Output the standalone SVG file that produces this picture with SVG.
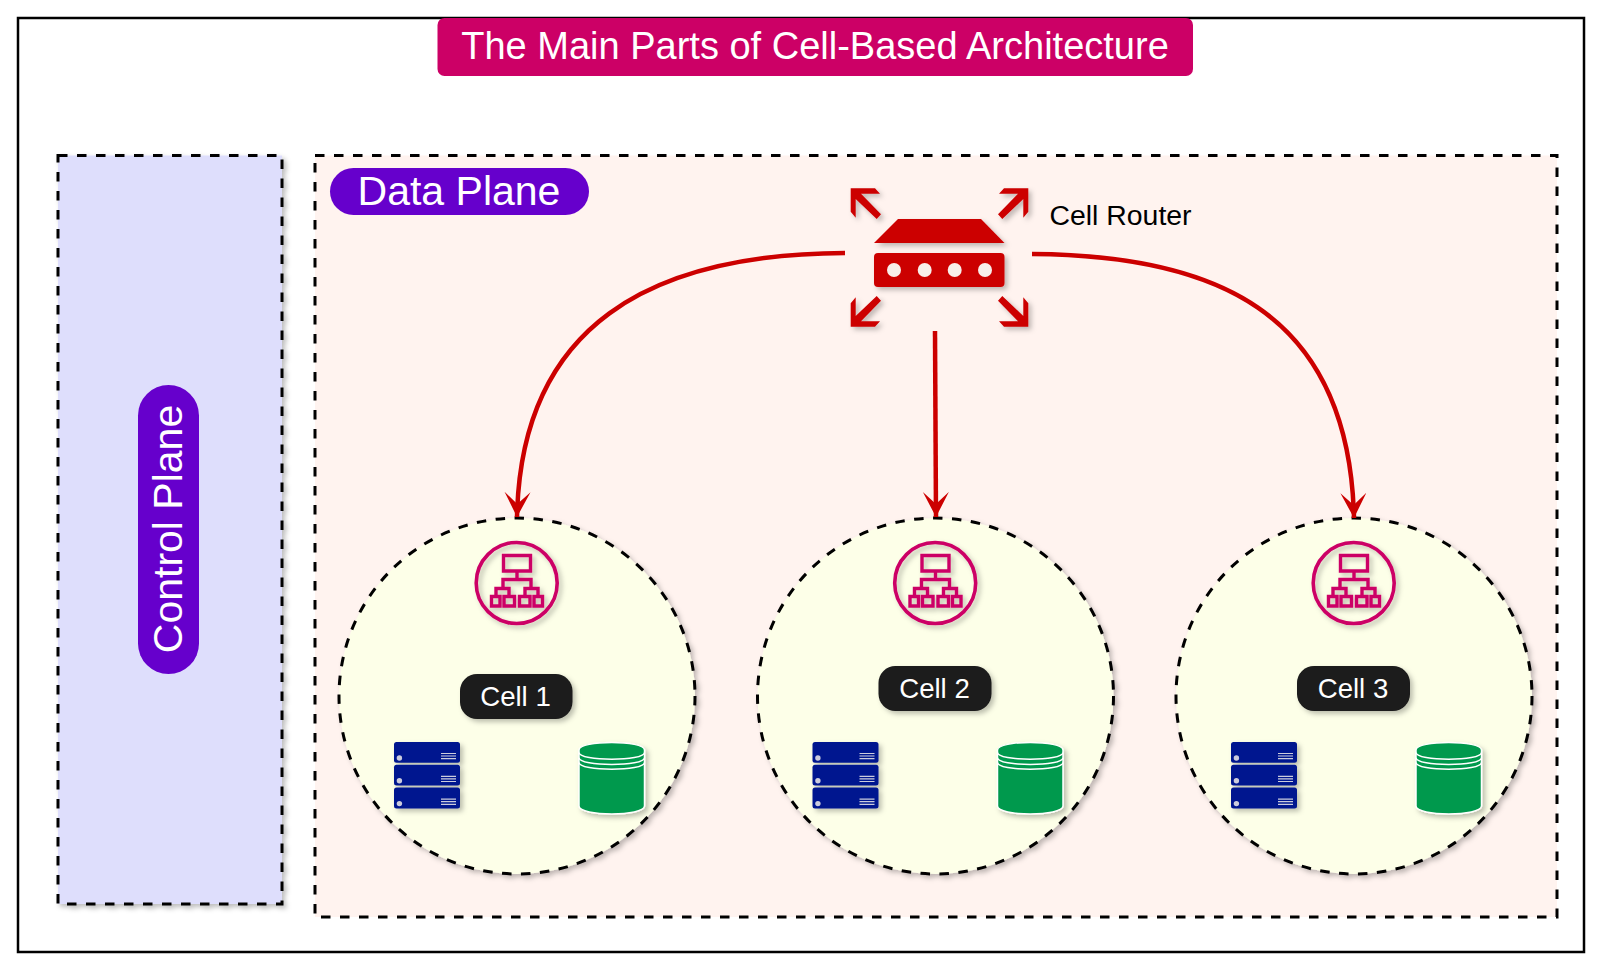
<svg xmlns="http://www.w3.org/2000/svg" xmlns:xlink="http://www.w3.org/1999/xlink" width="1600" height="970" viewBox="0 0 1600 970">
<style>
text{font-family:"Liberation Sans",Arial,sans-serif}
.w{fill:#fff}
.dash{stroke:#000;stroke-width:3;stroke-dasharray:9.5 9.5}
.red{fill:none;stroke:#CC0000;stroke-width:4.5}
.lbl{font-size:27.6px;fill:#fff;text-anchor:middle}
.net{fill:none;stroke:#CC0066;stroke-width:3.4}
</style>
<defs>
<filter id="sh" x="-20%" y="-20%" width="150%" height="150%"><feDropShadow dx="3" dy="3" stdDeviation="2.500" flood-color="#000" flood-opacity="0.25"/></filter>
<marker id="ah" markerUnits="userSpaceOnUse" markerWidth="28" markerHeight="28" refX="25" refY="13" orient="auto"><path d="M0,0 L25,13 L0,26 L12,13 Z" fill="#CC0000"/></marker>
<polygon id="rarrow" points="850.7,188.3 850.7,211.700 855.700,217.700 855.700,199 876.700,219 881,214.300 861,193.700 880,193.700 875,188.300" fill="#CC0000"/>
<g id="icon">
<circle cx="516.700" cy="583" r="40.500" fill="none" stroke="#CC0066" stroke-width="3.600"/>
<path class="net" d="M503.500,555.500H530.500V571H503.500ZM517,571V579.500M503,588V579.500H531V588M496,596V588.500H509V596M525,596V588.500H538V596M491.500,596.500H500V606H491.500ZM504,596.500H514.500V606H504ZM519.500,596.500H530V606H519.500ZM534,596.500H542.500V606H534Z"/>
</g>
<g id="srv"><rect x="394" y="742" width="66" height="20.800" rx="2.500" fill="#00188F"/><circle cx="399.400" cy="758" r="2.700" fill="#ccd"/><path d="M441,753.500H456M441,756H456M441,758.700H456" stroke="#ccd" stroke-width="1.200" fill="none"/></g>
<g id="server"><use href="#srv"/><use href="#srv" y="22.800"/><use href="#srv" y="45.600"/></g>
<g id="db"><path d="M579,750C579,740 644.500,740 644.500,750V806C644.500,816.500 579,816.500 579,806Z" fill="#00994D" stroke="#fff" stroke-width="1.500"/><path d="M579,752.500C579,761.500 644.500,761.500 644.500,752.500M579,757.800C579,766.800 644.500,766.800 644.500,757.800M579,762.500C579,771.500 644.500,771.500 644.500,762.500" fill="none" stroke="#fff" stroke-width="1.500"/></g>
</defs>
<rect width="1600" height="970" fill="#fff"/>
<rect id="frame" x="18" y="18" width="1566" height="934" fill="none" stroke="#000" stroke-width="2.500"/>
<g id="title"><rect x="437.500" y="18" width="755.500" height="58" rx="7" fill="#CC0066"/><text x="815" y="58.500" font-size="38" class="w" text-anchor="middle">The Main Parts of Cell-Based Architecture</text></g>
<g id="control-plane"><rect x="58" y="155.500" width="224" height="748.500" fill="#DEDEFC" class="dash" filter="url(#sh)"/><rect x="138" y="385" width="61" height="289" rx="30.500" fill="#6600CC"/><text transform="translate(182,529) rotate(-90)" font-size="41" class="w" text-anchor="middle">Control Plane</text></g>
<g id="data-plane"><rect x="315" y="155.500" width="1242" height="761.500" fill="#FFF3EF" class="dash"/><rect x="330" y="168" width="259" height="47" rx="23.500" fill="#6600CC"/><text x="459" y="204.500" font-size="41" class="w" text-anchor="middle">Data Plane</text></g>
<g id="cell-router"><g filter="url(#sh)"><polygon points="898,219 981,219 1004.500,243 874,243" fill="#CC0000"/><rect x="874" y="253" width="130.500" height="34" rx="4" fill="#CC0000"/><use href="#rarrow"/><use href="#rarrow" transform="matrix(-1 0 0 1 1879 0)"/><use href="#rarrow" transform="matrix(1 0 0 -1 0 515)"/><use href="#rarrow" transform="matrix(-1 0 0 -1 1879 515)"/></g><g fill="#F8EEEA"><circle cx="894" cy="270" r="7"/><circle cx="924.700" cy="270" r="7"/><circle cx="954.700" cy="270" r="7"/><circle cx="985" cy="270" r="7"/></g><text x="1049.500" y="225" font-size="28.400" fill="#000">Cell Router</text></g>
<g id="cell-1"><circle cx="517" cy="696" r="178" fill="#FDFFE8" class="dash" filter="url(#sh)"/><use href="#icon" filter="url(#sh)"/><rect x="460" y="674" width="112.500" height="45" rx="17" fill="#1A1A1A" filter="url(#sh)"/><text x="515.500" y="706" class="lbl">Cell 1</text><use href="#server" filter="url(#sh)"/><use href="#db" filter="url(#sh)"/></g>
<g id="cell-2" transform="translate(418.500,0)"><circle cx="517" cy="696" r="178" fill="#FDFFE8" class="dash" filter="url(#sh)"/><use href="#icon" filter="url(#sh)"/><rect x="460" y="666" width="113" height="45" rx="17" fill="#1A1A1A" filter="url(#sh)"/><text x="516" y="698" class="lbl">Cell 2</text><use href="#server" filter="url(#sh)"/><use href="#db" filter="url(#sh)"/></g>
<g id="cell-3" transform="translate(837,0)"><circle cx="517" cy="696" r="178" fill="#FDFFE8" class="dash" filter="url(#sh)"/><use href="#icon" filter="url(#sh)"/><rect x="460" y="666" width="113" height="45" rx="17" fill="#1A1A1A" filter="url(#sh)"/><text x="516" y="698" class="lbl">Cell 3</text><use href="#server" filter="url(#sh)"/><use href="#db" filter="url(#sh)"/></g>
<g id="connectors">
<path class="red" marker-end="url(#ah)" d="M845,253C650,254 521,325 517,517"/>
<path class="red" marker-end="url(#ah)" d="M935,331L936,517"/>
<path class="red" marker-end="url(#ah)" d="M1032,254C1210,255 1349,308 1354,518"/>
</g>
</svg>
